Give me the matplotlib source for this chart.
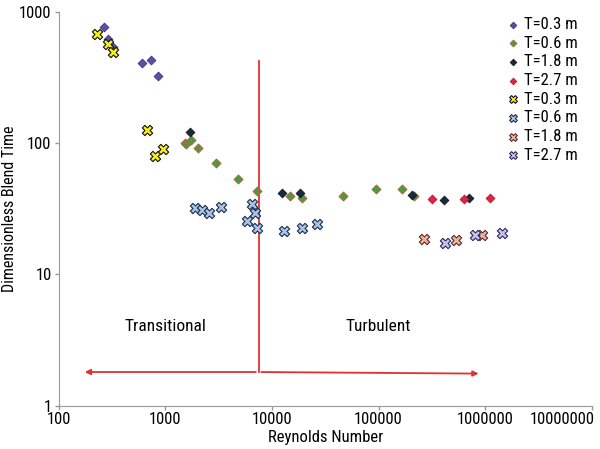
import matplotlib
matplotlib.use('Agg')
import matplotlib.pyplot as plt
import matplotlib.transforms as mtransforms
from matplotlib.ticker import FixedLocator, NullLocator

plt.rcParams['font.family'] = ['Roboto Condensed', 'DejaVu Sans']

# diamonds (first legend group)
re_03 = [266, 290, 323, 602, 731, 849]
bt_03 = [768, 622, 541, 408, 430, 325]

re_06 = [1518, 1550, 1763, 2050, 3020, 4840, 7290, 14800, 19200, 46300, 94200, 164800, 213000]
bt_06 = [100, 98, 105, 92, 70, 53, 43, 39.4, 38, 39.4, 44.6, 44.6, 39.4]

re_18 = [1690, 12500, 18400, 204000, 406000, 711000]
bt_18 = [121, 41.5, 41.5, 40.1, 36.7, 38]

re_27 = [314000, 625000, 1117000]
bt_27 = [37.4, 37.4, 38]

# crosses (second legend group)
re_x03 = [229, 290, 323, 670, 796, 946]
bt_x03 = [679, 570, 495, 126, 80, 90]

re_x06 = [1884, 2235, 2600, 3365, 6550, 6980, 5880, 7290, 13000, 19200, 26500]
bt_x06 = [31.9, 31, 29.2, 32.5, 34.2, 29.2, 25.4, 22.4, 21.3, 22.4, 24.1]

re_x18 = [264000, 537000, 940000]
bt_x18 = [18.5, 18.2, 19.9]

re_x27 = [415000, 809000, 1446000]
bt_x27 = [17.3, 19.9, 20.6]

fig = plt.figure(figsize=(6, 4.49), dpi=100)
ax = fig.add_axes([58.5 / 600, 1 - 405.5 / 449, (592 - 58.5) / 600, (405.5 - 12) / 449])

ax.scatter(re_03, bt_03, marker='D', s=20, color='#5b4fa6', edgecolors='#3c3580', linewidths=0.6, label='T=0.3 m', zorder=3)
ax.scatter(re_06, bt_06, marker='D', s=20, color='#4a9a44', edgecolors='#b0683a', linewidths=0.8, label='T=0.6 m', zorder=3)
ax.scatter(re_18, bt_18, marker='D', s=20, color='#172a3e', edgecolors='#101820', linewidths=0.6, label='T=1.8 m', zorder=3)
ax.scatter(re_27, bt_27, marker='D', s=20, color='#e2233f', edgecolors='#b01830', linewidths=0.6, label='T=2.7 m', zorder=3)

ax.scatter(re_x03, bt_x03, marker='X', s=55, color='#f4f01e', edgecolors='#111111', linewidths=0.8, label='T=0.3 m', zorder=3)
ax.scatter(re_x06, bt_x06, marker='X', s=55, color='#a9c4e6', edgecolors='#1c2e4a', linewidths=0.8, label='T=0.6 m', zorder=3)
ax.scatter(re_x18, bt_x18, marker='X', s=55, color='#eeb4a0', edgecolors='#5a2a2a', linewidths=0.8, label='T=1.8 m', zorder=3)
ax.scatter(re_x27, bt_x27, marker='X', s=55, color='#c8c4e8', edgecolors='#2a2a5a', linewidths=0.8, label='T=2.7 m', zorder=3)

# regime boundary and arrow
ax.plot([7500, 7500], [423, 1.8], color='#e03030', linewidth=1.3, zorder=2)
ax.annotate('', xy=(166, 1.8), xytext=(7500, 1.8),
            arrowprops=dict(arrowstyle='-|>', color='#e03030', lw=1.3, mutation_scale=8))
ax.annotate('', xy=(918000, 1.75), xytext=(7500, 1.8),
            arrowprops=dict(arrowstyle='-|>', color='#e03030', lw=1.3, mutation_scale=8))

ax.text(1010, 4.0, 'Transitional', ha='center', va='center', fontsize=12.5)
ax.text(100000, 4.0, 'Turbulent', ha='center', va='center', fontsize=12.5)

ax.set_xscale('log')
ax.set_yscale('log')
ax.set_xlim(100, 1e7)
ax.set_ylim(1, 1000)

xt = [100, 1000, 10000, 100000, 1000000, 10000000]
yt = [1, 10, 100, 1000]
ax.xaxis.set_major_locator(FixedLocator(xt))
ax.xaxis.set_minor_locator(NullLocator())
ax.yaxis.set_major_locator(FixedLocator(yt))
ax.yaxis.set_minor_locator(NullLocator())
ax.set_xticklabels([str(v) for v in xt], fontsize=12)
ax.set_yticklabels([str(v) for v in yt], fontsize=12)

for side in ['top', 'right']:
    ax.spines[side].set_visible(False)
for side in ['left', 'bottom']:
    ax.spines[side].set_color('#999999')
ax.tick_params(axis='both', colors='#999999', labelcolor='black', length=3, width=1, pad=2)

# last x label sits left of its tick so it stays inside the picture
last = ax.get_xticklabels()[-1]
last.set_horizontalalignment('right')
last.set_transform(last.get_transform() + mtransforms.ScaledTranslation(3 / 100, 0, fig.dpi_scale_trans))

ax.set_xlabel('Reynolds Number', fontsize=12, labelpad=2)
ax.set_ylabel('Dimensionless Blend Time', fontsize=11.5)
ax.yaxis.set_label_coords((17 - 58.5) / 533.5, 0.5)

fig.legend(loc='upper left', bbox_to_anchor=(506 / 600, 1 - 17 / 449), frameon=False, fontsize=12,
           handlelength=0.8, handletextpad=0.3, labelspacing=0.22, borderaxespad=0, borderpad=0,
           markerscale=0.75)

fig.savefig('out.png', dpi=100)
